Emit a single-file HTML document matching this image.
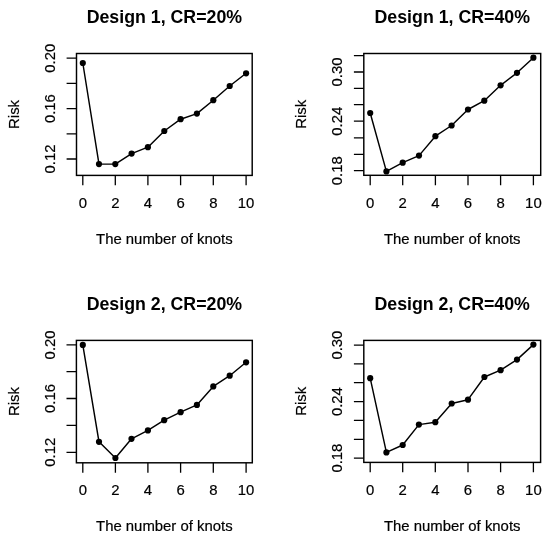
<!DOCTYPE html>
<html><head><meta charset="utf-8"><title>Risk vs number of knots</title>
<style>
html,body{margin:0;padding:0;background:#fff}
svg{display:block}
text{font-family:"Liberation Sans",sans-serif;fill:#000}
.t{font-size:17.75px;font-weight:bold;text-anchor:middle}
.a{font-size:14.9px;text-anchor:middle;stroke:#000;stroke-width:0.2}
.l{stroke:#000;stroke-width:1.45;fill:none;stroke-linecap:butt}
.k{stroke:#000;stroke-width:1.3;fill:none}
.d{stroke:#000;stroke-width:1.45;fill:none;stroke-linejoin:round}
</style></head>
<body>
<svg width="550" height="538" viewBox="0 0 550 538">
<rect width="550" height="538" fill="#fff"/>
<g transform="translate(0.00,0.00)">
<text class="t" x="164.35" y="23.10">Design 1, CR=20%</text>
<rect class="l" x="76.50" y="53.50" width="175.70" height="121.90"/>
<path class="k" d="M82.80 175.40v9.90M115.30 175.40v9.90M147.90 175.40v9.90M180.60 175.40v9.90M213.30 175.40v9.90M246.10 175.40v9.90M76.50 58.20h-9.90M76.50 83.40h-9.90M76.50 108.60h-9.90M76.50 133.80h-9.90M76.50 159.00h-9.90"/>
<text class="a" x="82.80" y="208.00">0</text>
<text class="a" x="115.30" y="208.00">2</text>
<text class="a" x="147.90" y="208.00">4</text>
<text class="a" x="180.60" y="208.00">6</text>
<text class="a" x="213.30" y="208.00">8</text>
<text class="a" x="246.10" y="208.00">10</text>
<text class="a" transform="translate(54.80,58.20) rotate(-90)">0.20</text>
<text class="a" transform="translate(54.80,108.60) rotate(-90)">0.16</text>
<text class="a" transform="translate(54.80,159.00) rotate(-90)">0.12</text>
<text class="a" x="164.35" y="243.70">The number of knots</text>
<text class="a" transform="translate(19.10,114.45) rotate(-90)">Risk</text>
<polyline class="d" points="82.80,63.00 99.00,164.10 115.30,164.10 131.60,153.60 147.90,147.20 164.30,131.00 180.60,119.20 196.90,113.60 213.30,100.20 229.70,86.00 246.10,73.30"/>
<circle cx="82.80" cy="63.00" r="3.1"/>
<circle cx="99.00" cy="164.10" r="3.1"/>
<circle cx="115.30" cy="164.10" r="3.1"/>
<circle cx="131.60" cy="153.60" r="3.1"/>
<circle cx="147.90" cy="147.20" r="3.1"/>
<circle cx="164.30" cy="131.00" r="3.1"/>
<circle cx="180.60" cy="119.20" r="3.1"/>
<circle cx="196.90" cy="113.60" r="3.1"/>
<circle cx="213.30" cy="100.20" r="3.1"/>
<circle cx="229.70" cy="86.00" r="3.1"/>
<circle cx="246.10" cy="73.30" r="3.1"/>
</g>
<g transform="translate(287.30,0.00)">
<text class="t" x="164.95" y="23.10">Design 1, CR=40%</text>
<rect class="l" x="76.50" y="53.50" width="176.90" height="121.80"/>
<path class="k" d="M82.90 175.30v9.90M115.40 175.30v9.90M148.10 175.30v9.90M180.70 175.30v9.90M213.30 175.30v9.90M246.10 175.30v9.90M76.50 55.70h-9.90M76.50 72.00h-9.90M76.50 88.40h-9.90M76.50 104.70h-9.90M76.50 121.20h-9.90M76.50 137.80h-9.90M76.50 154.30h-9.90M76.50 170.70h-9.90"/>
<text class="a" x="82.90" y="208.00">0</text>
<text class="a" x="115.40" y="208.00">2</text>
<text class="a" x="148.10" y="208.00">4</text>
<text class="a" x="180.70" y="208.00">6</text>
<text class="a" x="213.30" y="208.00">8</text>
<text class="a" x="246.10" y="208.00">10</text>
<text class="a" transform="translate(54.80,72.00) rotate(-90)">0.30</text>
<text class="a" transform="translate(54.80,121.20) rotate(-90)">0.24</text>
<text class="a" transform="translate(54.80,170.70) rotate(-90)">0.18</text>
<text class="a" x="164.95" y="243.70">The number of knots</text>
<text class="a" transform="translate(19.10,114.40) rotate(-90)">Risk</text>
<polyline class="d" points="82.90,113.00 99.10,171.40 115.40,162.70 131.70,155.60 148.10,136.20 164.30,125.50 180.70,109.50 197.00,100.70 213.30,85.30 229.70,72.80 246.10,57.70"/>
<circle cx="82.90" cy="113.00" r="3.1"/>
<circle cx="99.10" cy="171.40" r="3.1"/>
<circle cx="115.40" cy="162.70" r="3.1"/>
<circle cx="131.70" cy="155.60" r="3.1"/>
<circle cx="148.10" cy="136.20" r="3.1"/>
<circle cx="164.30" cy="125.50" r="3.1"/>
<circle cx="180.70" cy="109.50" r="3.1"/>
<circle cx="197.00" cy="100.70" r="3.1"/>
<circle cx="213.30" cy="85.30" r="3.1"/>
<circle cx="229.70" cy="72.80" r="3.1"/>
<circle cx="246.10" cy="57.70" r="3.1"/>
</g>
<g transform="translate(0.00,286.90)">
<text class="t" x="164.35" y="23.10">Design 2, CR=20%</text>
<rect class="l" x="76.40" y="53.50" width="175.90" height="122.40"/>
<path class="k" d="M82.80 175.90v9.90M115.40 175.90v9.90M147.90 175.90v9.90M180.60 175.90v9.90M213.30 175.90v9.90M246.10 175.90v9.90M76.40 58.00h-9.90M76.40 84.80h-9.90M76.40 111.60h-9.90M76.40 138.50h-9.90M76.40 165.40h-9.90"/>
<text class="a" x="82.80" y="208.00">0</text>
<text class="a" x="115.40" y="208.00">2</text>
<text class="a" x="147.90" y="208.00">4</text>
<text class="a" x="180.60" y="208.00">6</text>
<text class="a" x="213.30" y="208.00">8</text>
<text class="a" x="246.10" y="208.00">10</text>
<text class="a" transform="translate(54.80,58.00) rotate(-90)">0.20</text>
<text class="a" transform="translate(54.80,111.60) rotate(-90)">0.16</text>
<text class="a" transform="translate(54.80,165.40) rotate(-90)">0.12</text>
<text class="a" x="164.35" y="243.70">The number of knots</text>
<text class="a" transform="translate(19.10,114.70) rotate(-90)">Risk</text>
<polyline class="d" points="82.80,58.00 99.00,154.90 115.40,171.10 131.50,151.90 147.90,143.50 164.20,133.30 180.60,125.30 196.90,118.00 213.30,99.50 229.70,88.80 246.10,75.40"/>
<circle cx="82.80" cy="58.00" r="3.1"/>
<circle cx="99.00" cy="154.90" r="3.1"/>
<circle cx="115.40" cy="171.10" r="3.1"/>
<circle cx="131.50" cy="151.90" r="3.1"/>
<circle cx="147.90" cy="143.50" r="3.1"/>
<circle cx="164.20" cy="133.30" r="3.1"/>
<circle cx="180.60" cy="125.30" r="3.1"/>
<circle cx="196.90" cy="118.00" r="3.1"/>
<circle cx="213.30" cy="99.50" r="3.1"/>
<circle cx="229.70" cy="88.80" r="3.1"/>
<circle cx="246.10" cy="75.40" r="3.1"/>
</g>
<g transform="translate(287.30,286.90)">
<text class="t" x="164.90" y="23.10">Design 2, CR=40%</text>
<rect class="l" x="76.50" y="53.50" width="176.80" height="122.00"/>
<path class="k" d="M82.90 175.50v9.90M115.40 175.50v9.90M148.00 175.50v9.90M180.70 175.50v9.90M213.30 175.50v9.90M246.10 175.50v9.90M76.50 58.20h-9.90M76.50 77.00h-9.90M76.50 95.80h-9.90M76.50 114.70h-9.90M76.50 133.50h-9.90M76.50 152.40h-9.90M76.50 171.20h-9.90"/>
<text class="a" x="82.90" y="208.00">0</text>
<text class="a" x="115.40" y="208.00">2</text>
<text class="a" x="148.00" y="208.00">4</text>
<text class="a" x="180.70" y="208.00">6</text>
<text class="a" x="213.30" y="208.00">8</text>
<text class="a" x="246.10" y="208.00">10</text>
<text class="a" transform="translate(54.80,58.20) rotate(-90)">0.30</text>
<text class="a" transform="translate(54.80,114.70) rotate(-90)">0.24</text>
<text class="a" transform="translate(54.80,171.20) rotate(-90)">0.18</text>
<text class="a" x="164.90" y="243.70">The number of knots</text>
<text class="a" transform="translate(19.10,114.50) rotate(-90)">Risk</text>
<polyline class="d" points="82.90,91.30 99.10,165.50 115.40,158.10 131.60,137.70 148.00,135.30 164.40,116.60 180.70,112.80 197.10,90.10 213.30,83.30 229.70,72.70 246.10,57.70"/>
<circle cx="82.90" cy="91.30" r="3.1"/>
<circle cx="99.10" cy="165.50" r="3.1"/>
<circle cx="115.40" cy="158.10" r="3.1"/>
<circle cx="131.60" cy="137.70" r="3.1"/>
<circle cx="148.00" cy="135.30" r="3.1"/>
<circle cx="164.40" cy="116.60" r="3.1"/>
<circle cx="180.70" cy="112.80" r="3.1"/>
<circle cx="197.10" cy="90.10" r="3.1"/>
<circle cx="213.30" cy="83.30" r="3.1"/>
<circle cx="229.70" cy="72.70" r="3.1"/>
<circle cx="246.10" cy="57.70" r="3.1"/>
</g>
</svg>
</body></html>
